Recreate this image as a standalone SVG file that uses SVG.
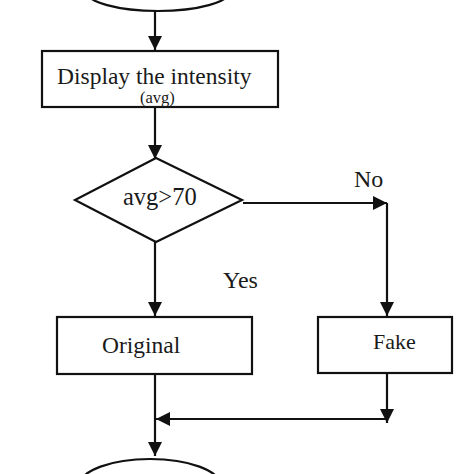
<svg xmlns="http://www.w3.org/2000/svg" width="474" height="474" viewBox="0 0 474 474">
<style>
.s{fill:#fff;stroke:#111;stroke-width:2.2}
.l{fill:none;stroke:#111;stroke-width:2.2}
text{font-family:"Liberation Serif","Times New Roman",serif;fill:#1a1a1a}
</style>
<defs>
<marker id="a" viewBox="0 0 14 14" refX="14" refY="7" markerWidth="14" markerHeight="14" markerUnits="userSpaceOnUse" orient="auto">
<path d="M0,0L14,7L0,14Z" fill="#111"/>
</marker>
</defs>
<rect width="474" height="474" fill="#fff"/>
<g id="start"><ellipse class="s" cx="158" cy="-9" rx="72" ry="20"/></g>
<g id="display"><rect class="s" x="42" y="51" width="236" height="56"/>
<text x="57" y="84" font-size="23.5">Display the intensity</text>
<text x="140" y="102.5" font-size="16.5">(avg)</text></g>
<g id="decision"><polygon class="s" points="156,158 242,200 156,242 75,200"/>
<text x="123" y="205" font-size="24.5">avg&gt;70</text></g>
<g id="original"><rect class="s" x="57" y="317" width="195" height="57"/>
<text x="102" y="353" font-size="23.5">Original</text></g>
<g id="fake"><rect class="s" x="318" y="317" width="134" height="56"/>
<text x="373" y="349" font-size="22">Fake</text></g>
<g id="end"><ellipse class="s" cx="150" cy="485" rx="70" ry="26"/></g>
<g id="connectors">
<line class="l" x1="155" y1="11" x2="155" y2="50" marker-end="url(#a)"/>
<line class="l" x1="155" y1="107" x2="155" y2="159" marker-end="url(#a)"/>
<polyline class="l" points="243,203 387,203" marker-end="url(#a)"/>
<line class="l" x1="387" y1="203" x2="387" y2="316" marker-end="url(#a)"/>
<line class="l" x1="155" y1="242" x2="155" y2="316" marker-end="url(#a)"/>
<line class="l" x1="155" y1="374" x2="155" y2="456" marker-end="url(#a)"/>
<line class="l" x1="387" y1="373" x2="387" y2="423" marker-end="url(#a)"/>
<line class="l" x1="387" y1="419" x2="156" y2="419" marker-end="url(#a)"/>
<text x="354" y="187" font-size="24">No</text>
<text x="223" y="288" font-size="24">Yes</text>
</g>
</svg>
